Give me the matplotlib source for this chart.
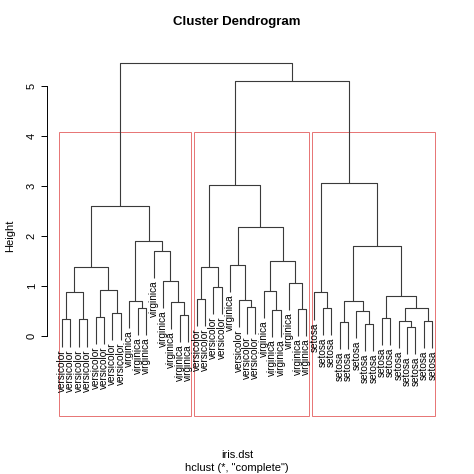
import matplotlib
matplotlib.use("Agg")
import matplotlib.pyplot as plt
from matplotlib.patches import Rectangle

plt.rcParams["font.family"] = ["Liberation Sans", "DejaVu Sans"]

V, G, S = "versicolor", "virginica", "setosa"

# merge tree: (left, right, height), leaves are labels
c1_vers = (((V, V, 0.33), (V, V, 0.33), 0.87), ((V, V, 0.38), (V, V, 0.46), 0.92), 1.37)
c1_virg = ((G, (G, G, 0.56), 0.70), (G, (G, (G, (G, G, 0.42), 0.68), 1.10), 1.70), 1.90)
cluster1 = (c1_vers, c1_virg, 2.60)

c2_vers = ((V, V, 0.74), (V, V, 0.98), 1.38)
c2_mix = ((G, (V, (V, V, 0.58), 0.72), 1.42),
          ((G, (G, G, 0.52), 0.90), (G, (G, G, 0.54), 1.06), 1.50), 2.17)
cluster2 = (c2_vers, c2_mix, 3.02)

c3_left = (S, (S, S, 0.56), 0.87)
c3_right = (((S, S, 0.28), (S, (S, S, 0.24), 0.50), 0.70),
            ((S, S, 0.36), ((S, (S, S, 0.18), 0.30), (S, S, 0.30), 0.56), 0.80), 1.80)
cluster3 = (c3_left, c3_right, 3.05)

root = (cluster1, (cluster2, cluster3, 5.10), 5.45)
k_clusters = [cluster1, cluster2, cluster3]

hang = 0.1 * root[2]
line_kw = dict(color="#3a3a3a", lw=0.8, solid_capstyle="butt")

fig = plt.figure(figsize=(4.74, 4.74), dpi=100)
ax = fig.add_axes([0.0992, 0.1224, 0.8439, 0.7595])

counter = [0]


def count_leaves(node):
    if isinstance(node, str):
        return 1
    return count_leaves(node[0]) + count_leaves(node[1])


def draw(node, parent_h):
    # returns x position and top height of the node
    if isinstance(node, str):
        counter[0] += 1
        x = counter[0]
        y = parent_h - hang
        ax.text(x, y - 0.05, node, rotation=90, ha="center", va="top",
                fontsize=7.2, clip_on=False)
        return x, y
    h = node[2]
    xl, yl = draw(node[0], h)
    xr, yr = draw(node[1], h)
    ax.plot([xl, xl, xr, xr], [yl, h, h, yr], **line_kw)
    return (xl + xr) / 2, h


xr, hr = draw(root, root[2])

# red cluster boxes like rect.hclust(k=3)
cut = (cluster3[2] + root[1][2]) / 2
ymin = -1.6
start = 1
for cl in k_clusters:
    n = count_leaves(cl)
    ax.add_patch(Rectangle((start - 0.34, ymin), n - 1 + 0.67, cut - ymin,
                           fill=False, edgecolor="#e05050", lw=0.7, alpha=0.8,
                           clip_on=False))
    start += n

ax.set_xlim(-0.76, 46.76)
ax.set_ylim(ymin, 5.6)
for s in ["top", "right", "bottom"]:
    ax.spines[s].set_visible(False)
ax.spines["left"].set_bounds(0, 5)
ax.spines["left"].set_linewidth(0.7)
ax.set_xticks([])
ax.set_yticks(range(6))
ax.tick_params(axis="y", labelsize=8, length=4, width=0.7, labelrotation=90)
for t in ax.get_yticklabels():
    t.set_va("center")
ax.set_ylabel("Height", fontsize=8, labelpad=8)

fig.text(0.5, 0.953, "Cluster Dendrogram", ha="center", va="center",
         fontsize=9.5, fontweight="bold")
fig.text(0.5, 0.040, "iris.dst", ha="center", va="center", fontsize=8)
fig.text(0.5, 0.012, 'hclust (*, "complete")', ha="center", va="center", fontsize=8)

fig.savefig("out.png", dpi=100)
